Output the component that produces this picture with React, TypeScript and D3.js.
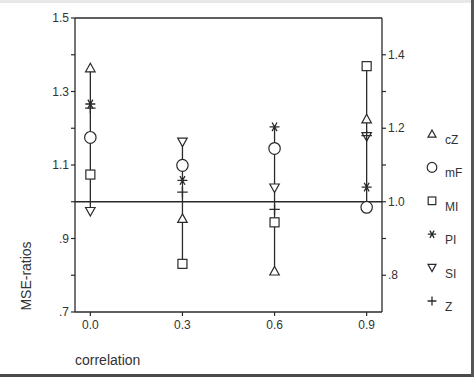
import React from "react";
import * as d3 from "d3";

const correlations = [0.0, 0.3, 0.6, 0.9];
const xTickLabels = ["0.0", "0.3", "0.6", "0.9"];
const cZ = [1.364, 0.954, 0.811, 1.225];
const mF = [1.175, 1.099, 1.145, 0.985];
const MI = [1.074, 0.831, 0.944, 1.369];
const PI = [1.266, 1.058, 1.204, 1.04];
const SI = [0.974, 1.163, 1.038, 1.178];
const Z = [1.255, 1.026, 0.979, 1.18];
const seriesNames = ["cZ", "mF", "MI", "PI", "SI", "Z"];
const seriesValues = [cZ, mF, MI, PI, SI, Z];
const leftTicks = [1.5, 1.4, 1.3, 1.2, 1.1, 1.0, 0.9, 0.8, 0.7];
const leftTickLabels: Record<string, string> = { "1.5": "1.5", "1.3": "1.3", "1.1": "1.1", "0.9": ".9", "0.7": ".7" };
const rightTicks = [1.4, 1.3, 1.2, 1.1, 1.0, 0.9, 0.8];
const rightTickLabels: Record<string, string> = { "1.4": "1.4", "1.2": "1.2", "1": "1.0", "0.8": ".8" };

const INK = "#2a2a2a";
const FONT = "'Liberation Sans', Arial, sans-serif";

function Marker({ kind, x, y, s }: { kind: string; x: number; y: number; s: number }) {
  const common = { fill: "#fff", stroke: INK, strokeWidth: 1.2 };
  const h = s / 2;
  switch (kind) {
    case "cZ":
      return <path d={`M${x},${y - h}L${x + h},${y + h * 0.8}L${x - h},${y + h * 0.8}Z`} {...common} />;
    case "mF":
      return <ellipse cx={x} cy={y} rx={h * 1.2} ry={h * 1.25} {...common} />;
    case "MI":
      return <rect x={x - h * 0.95} y={y - h * 0.95} width={h * 1.9} height={h * 1.9} {...common} />;
    case "PI": {
      const r = h * 1.05;
      const lines = [0, 60, 120].map((a) => {
        const rad = (a * Math.PI) / 180;
        const dx = r * Math.cos(rad);
        const dy = r * Math.sin(rad);
        return `M${x - dx},${y - dy}L${x + dx},${y + dy}`;
      });
      return <path d={lines.join("")} fill="none" stroke={INK} strokeWidth={1.3} />;
    }
    case "SI":
      return <path d={`M${x},${y + h}L${x + h},${y - h * 0.8}L${x - h},${y - h * 0.8}Z`} {...common} />;
    case "Z":
    default:
      return (
        <path d={`M${x - h * 1.1},${y}L${x + h * 1.1},${y}M${x},${y - h * 1.1}L${x},${y + h * 1.1}`} fill="none" stroke={INK} strokeWidth={1.3} />
      );
  }
}

export default function App() {
  const left = 75, right = 382, top = 18, bottom = 312;
  const x = d3.scaleLinear().domain([-0.05, 0.95]).range([left, right]);
  const y = d3.scaleLinear().domain([0.7, 1.5]).range([bottom, top]);

  const legendY = d3.scaleLinear().domain([0, 5]).range([134, 301]);

  return (
    <svg width={474} height={377} style={{ position: "absolute", left: 0, top: 0, background: "#fff" }} fontFamily={FONT}>
      <rect x={0} y={0} width={474} height={377} fill="#fff" />
      <rect x={0} y={0} width={474} height={3} fill="#e8e8e8" />
      <rect x={0} y={374} width={474} height={3} fill="#4a4a4a" />
      <rect x={471} y={0} width={3} height={377} fill="#555" />

      {/* frame */}
      <line x1={left} x2={right} y1={top} y2={top} stroke={INK} strokeWidth={1.3} />
      <line x1={left} x2={right} y1={bottom} y2={bottom} stroke={INK} strokeWidth={1.3} />
      <line x1={left} x2={left} y1={top} y2={bottom} stroke={INK} strokeWidth={1.3} />
      <line x1={right} x2={right} y1={top} y2={bottom} stroke={INK} strokeWidth={1.3} />

      {/* left axis */}
      {leftTicks.map((t) => (
        <g key={"l" + t}>
          <line x1={left - 4} x2={left} y1={y(t)} y2={y(t)} stroke={INK} strokeWidth={1.2} />
          {leftTickLabels[String(t)] && (
            <text x={left - 6} y={y(t)} dy="0.35em" textAnchor="end" fontSize={12} fill="#333">
              {leftTickLabels[String(t)]}
            </text>
          )}
        </g>
      ))}

      {/* right axis */}
      {rightTicks.map((t) => (
        <g key={"r" + t}>
          <line x1={right} x2={right + 4} y1={y(t)} y2={y(t)} stroke={INK} strokeWidth={1.2} />
          {rightTickLabels[String(t)] && (
            <text x={right + 6} y={y(t)} dy="0.35em" textAnchor="start" fontSize={12} fill="#333">
              {rightTickLabels[String(t)]}
            </text>
          )}
        </g>
      ))}

      {/* x axis */}
      {correlations.map((c, i) => (
        <g key={"x" + c}>
          <line x1={x(c)} x2={x(c)} y1={bottom} y2={bottom + 4} stroke={INK} strokeWidth={1.2} />
          <text x={x(c)} y={bottom + 17} textAnchor="middle" fontSize={12} fill="#333">
            {xTickLabels[i]}
          </text>
        </g>
      ))}

      {/* reference line */}
      <line x1={left} x2={right} y1={y(1.0)} y2={y(1.0)} stroke={INK} strokeWidth={1.3} />

      {/* range lines */}
      {correlations.map((c, i) => {
        const vals = seriesValues.map((s) => s[i]);
        return (
          <line key={"rl" + c} x1={x(c)} x2={x(c)} y1={y(d3.max(vals) as number)} y2={y(d3.min(vals) as number)} stroke={INK} strokeWidth={1.3} />
        );
      })}

      {/* markers */}
      {seriesNames.map((name, si) =>
        correlations.map((c, i) => <Marker key={name + c} kind={name} x={x(c)} y={y(seriesValues[si][i])} s={9.5} />)
      )}

      {/* legend */}
      {seriesNames.map((name, i) => (
        <g key={"lg" + name}>
          <Marker kind={name} x={432} y={legendY(i)} s={8} />
          <text x={445} y={legendY(i) + 10} fontSize={12} fill="#333">
            {name}
          </text>
        </g>
      ))}

      {/* axis titles */}
      <text x={75} y={365} fontSize={14} fill="#333">
        correlation
      </text>
      <text transform={`translate(31,276) rotate(-90)`} textAnchor="middle" fontSize={14} fill="#333">
        MSE-ratios
      </text>
    </svg>
  );
}
